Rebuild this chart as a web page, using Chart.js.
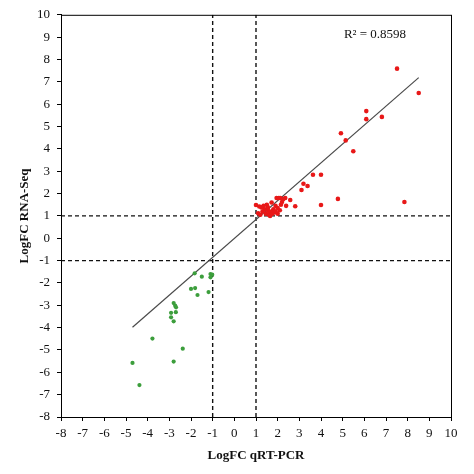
<!DOCTYPE html>
<html>
<head>
<meta charset="utf-8">
<script src="https://cdn.jsdelivr.net/npm/chart.js@4/dist/chart.umd.min.js"></script>
<style>
html,body{margin:0;padding:0;background:#fff;}
#wrap{width:474px;height:474px;position:relative;}
</style>
</head>
<body>
<div id="wrap"><canvas id="c"></canvas></div>
<script>
// Up-regulated genes (red)
const redX = [7.51, 8.51, 6.09, 6.09, 6.81, 4.92, 5.14, 5.49, 3.63, 4.00, 3.19, 3.38, 3.10, 4.78, 7.85, 4.00, 2.81, 2.58, 2.39, 2.35, 2.12,
  1.00, 1.10, 1.20, 1.30, 1.35, 1.40, 1.45, 1.50, 1.55, 1.60, 1.62, 1.65, 1.70, 1.72, 1.75, 1.80, 1.85, 1.90, 1.95, 2.00, 2.05, 2.10, 2.15, 2.20, 2.25, 1.25, 1.55, 1.90, 2.00, 1.15];
const redY = [7.59, 6.50, 5.69, 5.33, 5.43, 4.70, 4.38, 3.89, 2.84, 2.84, 2.44, 2.34, 2.16, 1.76, 1.62, 1.49, 1.43, 1.71, 1.45, 1.80, 1.80,
  1.49, 1.12, 1.05, 1.20, 1.45, 1.30, 1.10, 1.50, 1.25, 1.05, 1.15, 1.00, 1.20, 1.60, 1.10, 1.30, 1.15, 1.45, 1.80, 1.10, 1.80, 1.25, 1.50, 1.62, 1.75, 1.38, 1.38, 1.20, 1.35, 1.42];
// Down-regulated genes (green)
const greenX = [-4.70, -4.38, -3.78, -2.38, -2.80, -2.80, -2.73, -2.69, -2.92, -2.70, -2.92, -2.80, -1.83, -1.50, -1.10, -1.10, -2.00, -1.81, -1.70, -1.19, -1.02];
const greenY = [-5.58, -6.57, -4.49, -4.94, -5.52, -2.90, -3.02, -3.09, -3.34, -3.31, -3.54, -3.72, -1.57, -1.72, -1.60, -1.75, -2.27, -2.23, -2.54, -2.41, -1.63];
// Linear fit
const fitX = [-4.70, 8.51];
const fitY = [-3.98, 7.19];
const rSquared = "R\u00b2 = 0.8598";
// Thresholds
const thresholds = [-1, 1];
const axisMin = -8, axisMax = 10;
const xTitle = "LogFC qRT-PCR";
const yTitle = "LogFC RNA-Seq";

const toPts = (xs, ys) => xs.map((x, i) => ({x: x, y: ys[i]}));
const dash = [4, 3];
const datasets = [
  {type:'scatter', data: toPts(redX, redY), backgroundColor:'#e81818', borderColor:'#e81818', pointRadius:2.3, pointBorderWidth:0},
  {type:'scatter', data: toPts(greenX, greenY), backgroundColor:'#3c9e3c', borderColor:'#3c9e3c', pointRadius:2.1, pointBorderWidth:0},
  {type:'line', data: toPts(fitX, fitY), borderColor:'#4a4a4a', borderWidth:1.2, pointRadius:0, fill:false},
];
thresholds.forEach(t => {
  datasets.push({type:'line', data:[{x:t, y:axisMin},{x:t, y:axisMax}], borderColor:'#111', borderWidth:1.4, borderDash:dash, pointRadius:0, fill:false});
  datasets.push({type:'line', data:[{x:axisMin, y:t},{x:axisMax, y:t}], borderColor:'#111', borderWidth:1.4, borderDash:dash, pointRadius:0, fill:false});
});

const boxPlugin = {
  id:'box',
  afterDraw(chart){
    const {ctx, chartArea:a} = chart;
    ctx.save();
    ctx.strokeStyle = '#000';
    ctx.lineWidth = 1;
    ctx.strokeRect(a.left + 0.5, a.top + 0.5, a.right - a.left, a.bottom - a.top);
    ctx.fillStyle = '#111';
    ctx.font = '13px "Liberation Serif", "Times New Roman", serif';
    ctx.textAlign = 'center';
    ctx.textBaseline = 'middle';
    ctx.fillText(rSquared, 375, 35);
    ctx.restore();
  }
};

const tickFont = {family:'"Liberation Serif", "Times New Roman", serif', size:13};
const titleFont = {family:'"Liberation Serif", "Times New Roman", serif', size:13, weight:'bold'};

new Chart(document.getElementById('c'), {
  data:{datasets},
  options:{
    responsive:true,
    maintainAspectRatio:false,
    animation:false,
    layout:{padding:{left:0, right:23, top:13, bottom:0}},
    plugins:{legend:{display:false}, tooltip:{enabled:false}},
    scales:{
      x:{
        type:'linear', min:axisMin, max:axisMax,
        ticks:{stepSize:1, color:'#111', font:tickFont, padding:5, maxRotation:0, autoSkip:false},
        grid:{display:true, drawOnChartArea:false, drawTicks:true, tickLength:4, color:'#000'},
        border:{display:true, color:'#000', width:1},
        title:{display:true, text:xTitle, color:'#111', font:titleFont, padding:{top:0, bottom:11}},
        afterFit(s){ s.height = 474 - 417; }
      },
      y:{
        type:'linear', min:axisMin, max:axisMax,
        ticks:{stepSize:1, color:'#111', font:tickFont, padding:7, autoSkip:false},
        grid:{display:true, drawOnChartArea:false, drawTicks:true, tickLength:4, color:'#000'},
        border:{display:true, color:'#000', width:1},
        title:{display:true, text:yTitle, color:'#111', font:titleFont, padding:{top:17, bottom:0}},
        afterFit(s){ s.width = 61; }
      }
    }
  },
  plugins:[boxPlugin]
});
</script>
</body>
</html>
